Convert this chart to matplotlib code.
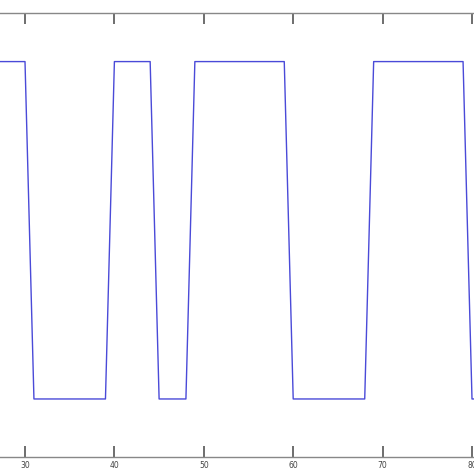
import matplotlib
matplotlib.use("Agg")
import matplotlib.pyplot as plt

# corner points of the square-ish signal
t = [27, 30, 31, 39, 40, 44, 45, 48, 49, 59, 60, 68, 69, 79, 80, 81]
state = [1, 1, 0, 0, 1, 1, 0, 0, 1, 1, 0, 0, 1, 1, 0, 0]
xticks = [30, 40, 50, 60, 70, 80]

fig = plt.figure(figsize=(4.74, 4.74), dpi=100)
W = 474.0
px_per = 447.0 / 50
left_px = 25 - 30 * px_per
ax = fig.add_axes([left_px / W, (474 - 457) / W, 100 * px_per / W, 444 / W])

ax.plot(t, state, color="#4a4ad8", lw=1.0)
ax.set_xlim(0, 100)
ax.set_ylim(-0.172, 1.144)
ax.set_xticks(xticks)
ax.set_yticks([])
ax.tick_params(axis="x", direction="in", top=True, length=8, width=1.2,
               color="#555555", labelsize=5.5, labelcolor="#444444", pad=3)
for s in ax.spines.values():
    s.set_color("#888888")
    s.set_linewidth(1.0)

fig.savefig("out.png", dpi=100)
